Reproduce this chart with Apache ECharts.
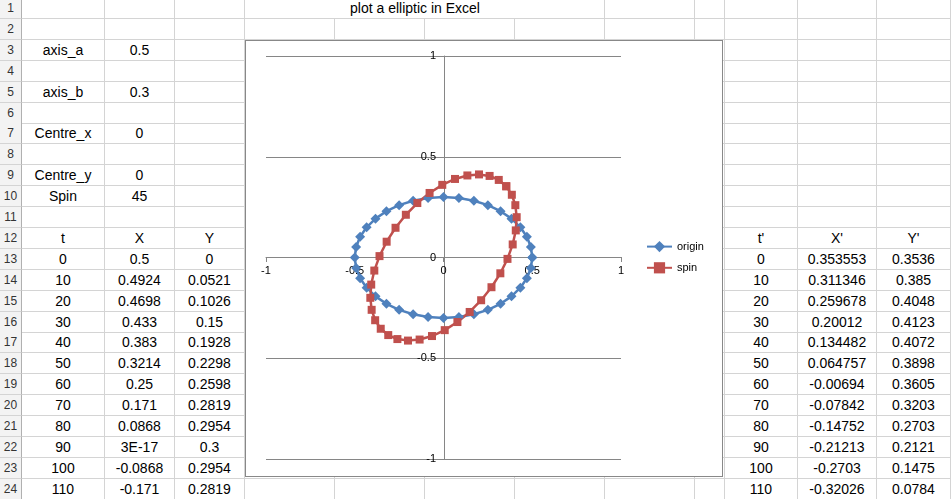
<!DOCTYPE html>
<html><head><meta charset="utf-8">
<script src="https://cdn.jsdelivr.net/npm/echarts@6/dist/echarts.min.js"></script>
<style>
body{margin:0;width:951px;height:499px;overflow:hidden;background:#fff;font-family:"Liberation Sans",Arial,sans-serif;position:relative}
.c{position:absolute;font-size:14px;text-align:center;line-height:21px;height:21px;white-space:nowrap;box-sizing:border-box;border-right:1px solid #d4d4d4;border-bottom:1px solid #d4d4d4}
.h{background:#f3f3f3;color:#333;font-size:12px;border-right:1px solid #b0b0b0}
#chart{position:absolute;left:245px;top:40px;width:478px;height:437px;border:1px solid #888;box-sizing:border-box;background:#fff}
</style></head>
<body>
<div id="sheet"></div>
<div id="chart"></div>
<script>
// 原始椭圆 t = 0..360
var originX = [0.5,0.4924,0.4698,0.433,0.383,0.3214,0.25,0.171,0.0868,0,-0.0868,-0.171,-0.25,-0.3214,-0.383,-0.433,-0.4698,-0.4924,-0.5,-0.4924,-0.4698,-0.433,-0.383,-0.3214,-0.25,-0.171,-0.0868,0,0.0868,0.171,0.25,0.3214,0.383,0.433,0.4698,0.4924,0.5];
var originY = [0,0.0521,0.1026,0.15,0.1928,0.2298,0.2598,0.2819,0.2954,0.3,0.2954,0.2819,0.2598,0.2298,0.1928,0.15,0.1026,0.0521,0,-0.0521,-0.1026,-0.15,-0.1928,-0.2298,-0.2598,-0.2819,-0.2954,-0.3,-0.2954,-0.2819,-0.2598,-0.2298,-0.1928,-0.15,-0.1026,-0.0521,0];
// 旋转45度
var spinX = [0.3536,0.3113,0.2597,0.2001,0.1345,0.0648,-0.0069,-0.0784,-0.1475,-0.2121,-0.2703,-0.3203,-0.3605,-0.3898,-0.4072,-0.4123,-0.4048,-0.385,-0.3536,-0.3113,-0.2597,-0.2001,-0.1345,-0.0648,0.0069,0.0784,0.1475,0.2121,0.2703,0.3203,0.3605,0.3898,0.4072,0.4123,0.4048,0.385,0.3536];
var spinY = [0.3536,0.385,0.4048,0.4123,0.4072,0.3898,0.3605,0.3203,0.2703,0.2121,0.1475,0.0784,0.0069,-0.0648,-0.1345,-0.2001,-0.2597,-0.3113,-0.3536,-0.385,-0.4048,-0.4123,-0.4072,-0.3898,-0.3605,-0.3203,-0.2703,-0.2121,-0.1475,-0.0784,-0.0069,0.0648,0.1345,0.2001,0.2597,0.3113,0.3536];
var axisTicks = [-1,-0.5,0,0.5,1];

// 表格内容
var colEdges = [0,22,105,175,245,335,425,515,605,695,725,798,877,951];
var rowH = 20.9, rowTop = -2;
var cells = {
  1:{5:'plot a elliptic in Excel'},
  3:{1:'axis_a',2:'0.5'},5:{1:'axis_b',2:'0.3'},7:{1:'Centre_x',2:'0'},9:{1:'Centre_y',2:'0'},10:{1:'Spin',2:'45'},
  12:{1:'t',2:'X',3:'Y',10:"t'",11:"X'",12:"Y'"},
  13:{1:'0',2:'0.5',3:'0',10:'0',11:'0.353553',12:'0.3536'},
  14:{1:'10',2:'0.4924',3:'0.0521',10:'10',11:'0.311346',12:'0.385'},
  15:{1:'20',2:'0.4698',3:'0.1026',10:'20',11:'0.259678',12:'0.4048'},
  16:{1:'30',2:'0.433',3:'0.15',10:'30',11:'0.20012',12:'0.4123'},
  17:{1:'40',2:'0.383',3:'0.1928',10:'40',11:'0.134482',12:'0.4072'},
  18:{1:'50',2:'0.3214',3:'0.2298',10:'50',11:'0.064757',12:'0.3898'},
  19:{1:'60',2:'0.25',3:'0.2598',10:'60',11:'-0.00694',12:'0.3605'},
  20:{1:'70',2:'0.171',3:'0.2819',10:'70',11:'-0.07842',12:'0.3203'},
  21:{1:'80',2:'0.0868',3:'0.2954',10:'80',11:'-0.14752',12:'0.2703'},
  22:{1:'90',2:'3E-17',3:'0.3',10:'90',11:'-0.21213',12:'0.2121'},
  23:{1:'100',2:'-0.0868',3:'0.2954',10:'100',11:'-0.2703',12:'0.1475'},
  24:{1:'110',2:'-0.171',3:'0.2819',10:'110',11:'-0.32026',12:'0.0784'}
};
var html = '';
for (var r = 1; r <= 24; r++) {
  var rowY = rowTop + (r - 1) * rowH;
  html += '<div class="c h" style="left:0;top:'+rowY+'px;width:22px">'+r+'</div>';
  for (var c = 1; c < colEdges.length - 1; c++) {
    var txt = (cells[r] && cells[r][c]) || '';
    var l = colEdges[c], w = colEdges[c+1] - colEdges[c];
    var st = 'left:'+l+'px;top:'+rowY+'px;width:'+w+'px;';
    if (r === 1 && c === 5) { st = 'left:245px;top:'+rowY+'px;width:340px;overflow:visible;border-right:none;background:#fff;z-index:1;'; }
    html += '<div class="c" style="'+st+'">'+txt+'</div>';
  }
}
document.getElementById('sheet').innerHTML = html;

var myChart = echarts.init(document.getElementById('chart'));
function pairs(xs, ys) { return xs.map(function (x, i) { return [x, ys[i]]; }); }
var axisCommon = {
  type: 'value', min: axisTicks[0], max: axisTicks[axisTicks.length-1], interval: 0.5,
  axisLine: { onZero: false, lineStyle: { color: '#868686' } },
  axisTick: { show: true, inside: false, length: 5, lineStyle: { color: '#868686' } },
  axisLabel: { color: '#000', fontSize: 11 }
};
var option = {
  animation: false,
  grid: { left: 20, right: 101, top: 15, bottom: 17 },
  legend: {
    orient: 'vertical', left: 395, top: 195, itemGap: 10,
    textStyle: { fontSize: 11, color: '#000' },
    data: ['origin', 'spin']
  },
  xAxis: Object.assign({}, axisCommon, { offset: -202, splitLine: { show: false } }),
  yAxis: Object.assign({}, axisCommon, { offset: -178, splitLine: { show: true, lineStyle: { color: '#868686' } } }),
  series: [
    { name: 'origin', type: 'line', data: pairs(originX, originY), symbol: 'diamond', symbolSize: 10,
      lineStyle: { width: 2.5, color: '#4F81BD' }, itemStyle: { color: '#4F81BD' } },
    { name: 'spin', type: 'line', data: pairs(spinX, spinY), symbol: 'rect', symbolSize: 8,
      lineStyle: { width: 2.5, color: '#C0504D' }, itemStyle: { color: '#C0504D' } }
  ]
};
myChart.setOption(option);
window.onresize = myChart.resize;
</script>
</body></html>
